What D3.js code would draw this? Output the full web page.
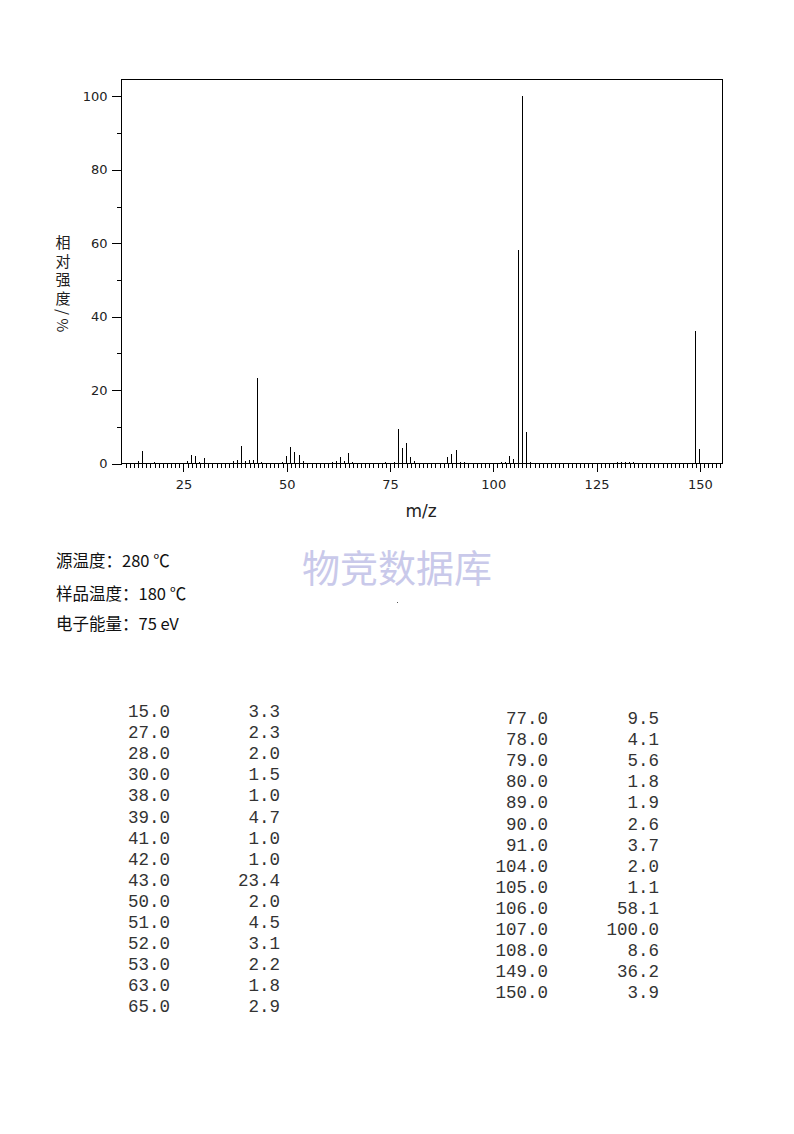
<!DOCTYPE html>
<html><head><meta charset="utf-8">
<script src="https://cdn.jsdelivr.net/npm/d3@7"></script>
<style>
html,body{margin:0;padding:0;background:#fff;}
svg{display:block;}
</style></head>
<body>
<script>
// Peak data (m/z, relative intensity %)
const mzValues = [14,15,18,26,27,28,29,30,37,38,39,40,41,42,43,44,49,50,51,52,53,54,61,62,63,64,65,66,74,76,77,78,79,80,81,89,90,91,92,93,102,103,104,105,106,107,108,109,130,131,132,133,134,149,150];
const intensities = [0.6,3.3,0.3,0.7,2.3,2.0,0.5,1.5,0.6,1.0,4.7,0.7,1.0,1.0,23.4,0.5,0.4,2.0,4.5,3.1,2.2,0.7,0.4,0.6,1.8,0.8,2.9,0.5,0.4,0.5,9.5,4.1,5.6,1.8,0.6,1.9,2.6,3.7,0.5,0.3,0.4,0.5,2.0,1.1,58.1,100.0,8.6,0.4,0.4,0.4,0.3,0.4,0.5,36.2,3.9];

// Peak table (listed peaks)
const tableLeftMz = ["15.0","27.0","28.0","30.0","38.0","39.0","41.0","42.0","43.0","50.0","51.0","52.0","53.0","63.0","65.0"];
const tableLeftInt = ["3.3","2.3","2.0","1.5","1.0","4.7","1.0","1.0","23.4","2.0","4.5","3.1","2.2","1.8","2.9"];
const tableRightMz = ["77.0","78.0","79.0","80.0","89.0","90.0","91.0","104.0","105.0","106.0","107.0","108.0","149.0","150.0"];
const tableRightInt = ["9.5","4.1","5.6","1.8","1.9","2.6","3.7","2.0","1.1","58.1","100.0","8.6","36.2","3.9"];

const xMajorTicks = [25,50,75,100,125,150];
const yMajorTicks = [0,20,40,60,80,100];
const yMinorTicks = [10,30,50,70,90];
const infoLines = ["源温度：280 ℃","样品温度：180 ℃","电子能量：75 eV"];
const yLabel = "相对强度/%";

const W = 794, H = 1134;
const svg = d3.select("body").append("svg").attr("width", W).attr("height", H);

const L = 121.5, R = 722.5, T = 79.5, B = 463.5;
const x = d3.scaleLinear().domain([10, 155.5]).range([L, R]);
const y = d3.scaleLinear().domain([0, 104.6]).range([B, T]);

const peaks = mzValues.map((m, i) => ({m, v: intensities[i]}));

// minor x ticks
const minorX = d3.range(11, 156);
svg.append("g").attr("transform", `translate(0,${B})`)
  .call(d3.axisBottom(x).tickValues(minorX).tickSize(4).tickFormat(""))
  .call(g => g.select(".domain").remove())
  .call(g => g.selectAll("line").attr("stroke", "#000").attr("shape-rendering", "crispEdges"));

// major x ticks
svg.append("g").attr("transform", `translate(0,${B})`)
  .call(d3.axisBottom(x).tickValues(xMajorTicks).tickSize(8).tickPadding(8))
  .call(g => g.select(".domain").remove())
  .call(g => g.selectAll("line").attr("stroke", "#000").attr("shape-rendering", "crispEdges"))
  .call(g => g.selectAll("text").attr("font-family", "DejaVu Sans, Verdana, sans-serif").attr("font-size", 13).attr("fill", "#222"));

// y minor
svg.append("g").attr("transform", `translate(${L},0)`)
  .call(d3.axisLeft(y).tickValues(yMinorTicks).tickSize(5).tickFormat(""))
  .call(g => g.select(".domain").remove())
  .call(g => g.selectAll("line").attr("stroke", "#000").attr("shape-rendering", "crispEdges"));
// y major
svg.append("g").attr("transform", `translate(${L},0)`)
  .call(d3.axisLeft(y).tickValues(yMajorTicks).tickSize(10).tickPadding(4))
  .call(g => g.select(".domain").remove())
  .call(g => g.selectAll("line").attr("stroke", "#000").attr("shape-rendering", "crispEdges"))
  .call(g => g.selectAll("text").attr("font-family", "DejaVu Sans, Verdana, sans-serif").attr("font-size", 13).attr("fill", "#222"));

// frame
svg.append("rect").attr("x", L).attr("y", T).attr("width", R - L).attr("height", B - T)
  .attr("fill", "none").attr("stroke", "#000").attr("stroke-width", 1).attr("shape-rendering", "crispEdges");

// peaks
svg.append("g").selectAll("line").data(peaks).join("line")
  .attr("x1", d => Math.round(x(d.m) - 0.5) + 0.5)
  .attr("x2", d => Math.round(x(d.m) - 0.5) + 0.5)
  .attr("y1", y(0))
  .attr("y2", d => y(d.v))
  .attr("stroke", "#000").attr("stroke-width", 1).attr("shape-rendering", "crispEdges");

// x label
svg.append("text").attr("x", 421).attr("y", 517).attr("text-anchor", "middle")
  .attr("font-family", "DejaVu Sans, Verdana, sans-serif").attr("font-size", 17).attr("fill", "#222").text("m/z");

// y label (vertical, single text element)
svg.append("text").attr("x", 63).attr("y", 235)
  .attr("font-family", "Noto Sans CJK SC, sans-serif").attr("font-size", 15).attr("fill", "#222")
  .style("writing-mode", "vertical-rl").style("text-orientation", "mixed").style("letter-spacing", "3.5px")
  .text(yLabel);

// info lines
const info = svg.append("g").attr("font-family", "Noto Sans CJK SC, sans-serif").attr("font-size", 16.5).attr("fill", "#111");
infoLines.forEach((t, i) => {
  info.append("text").attr("x", 56).attr("y", [567, 599.5, 630][i]).attr("xml:space", "preserve").text(t);
});

// watermark
svg.append("text").attr("x", 397).attr("y", 582).attr("text-anchor", "middle")
  .attr("font-family", "Noto Sans CJK SC, sans-serif").attr("font-size", 38).attr("fill", "#c9c9ea").text("物竞数据库");
svg.append("rect").attr("x", 397).attr("y", 602).attr("width", 1).attr("height", 1).attr("fill", "#555");

// table
const tbl = svg.append("g").attr("font-family", "Liberation Mono, Courier New, monospace").attr("font-size", 17.5).attr("fill", "#333").attr("text-anchor", "end");
tableLeftMz.forEach((t, i) => {
  tbl.append("text").attr("x", 170).attr("y", 717 + i * 21.1).text(t);
  tbl.append("text").attr("x", 280).attr("y", 717 + i * 21.1).text(tableLeftInt[i]);
});
tableRightMz.forEach((t, i) => {
  tbl.append("text").attr("x", 548).attr("y", 724 + i * 21.1).text(t);
  tbl.append("text").attr("x", 659).attr("y", 724 + i * 21.1).text(tableRightInt[i]);
});
</script>
</body></html>
